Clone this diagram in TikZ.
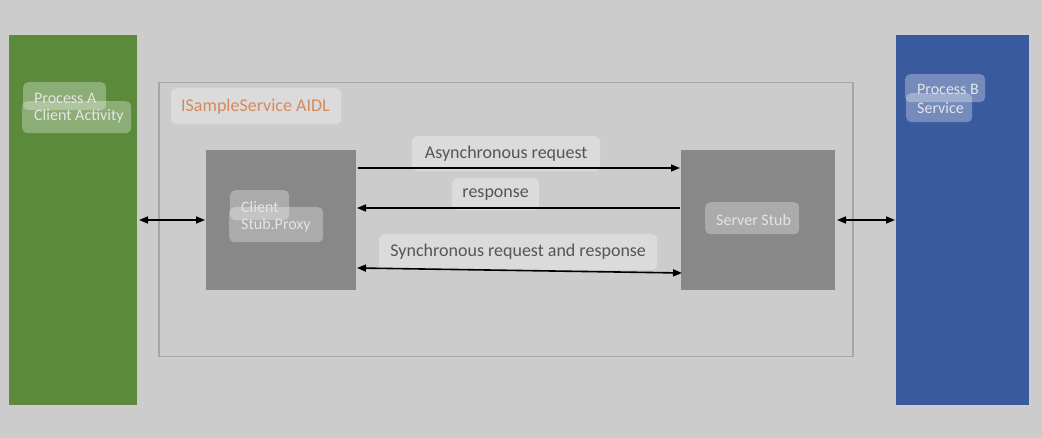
\documentclass[tikz,border=0pt]{standalone}
\usepackage{fontspec}
\setmainfont{Carlito}
\usetikzlibrary{arrows.meta}
\definecolor{bg}{HTML}{CCCCCC}
\definecolor{procA}{HTML}{5B8A3A}
\definecolor{procB}{HTML}{3A5A9E}
\definecolor{stubgray}{HTML}{888888}
\definecolor{framegray}{HTML}{A6A6A6}
\definecolor{aidlorange}{HTML}{D38A5E}
\definecolor{txtgray}{HTML}{555555}
\definecolor{wtxt}{HTML}{E4E4E4}
\tikzset{
  px/.style={x=1pt,y=-1pt},
  lbl/.style={fill=white,fill opacity=0.3,text opacity=1,rounded corners=5pt,inner sep=0pt,anchor=north west},
  wlbl/.style={lbl},
  wtext/.style={text=wtxt,font=\fontsize{16}{16}\selectfont,anchor=west,inner sep=0pt},
  glbl/.style={lbl,text=txtgray,font=\fontsize{18}{18}\selectfont},
  conn/.style={line width=1.6pt,-{Triangle[length=9pt,width=7pt]}},
  dconn/.style={line width=1.6pt,{Triangle[length=9pt,width=7pt]}-{Triangle[length=9pt,width=7pt]}},
}
\begin{document}
\begin{tikzpicture}[px]
\useasboundingbox (0,0) rectangle (1042,438);
\fill[bg] (0,0) rectangle (1042,438);
% process boxes
\node[fill=procA,minimum width=128pt,minimum height=370pt,inner sep=0pt,anchor=north west] (pa) at (9,35) {};
\node[fill=procB,minimum width=133pt,minimum height=370pt,inner sep=0pt,anchor=north west] (pb) at (896,35) {};
% AIDL frame
\node[draw=framegray,line width=1.5pt,minimum width=694pt,minimum height=274pt,inner sep=0pt,anchor=north west] (frame) at (158,82) {};
% stubs
\node[fill=stubgray,minimum width=150pt,minimum height=140pt,inner sep=0pt,anchor=north west] (cs) at (206,150) {};
\node[fill=stubgray,minimum width=154pt,minimum height=140pt,inner sep=0pt,anchor=north west] (ss) at (681,150) {};
% white-text labels
\node[wlbl,minimum width=83pt,minimum height=28pt] (la) at (23,82) {};
\node[wlbl,minimum width=109pt,minimum height=32pt] (lca) at (22,101) {};
\node[wtext] (lat) at (34,98) {Process A};
\node[wtext] (lcat) at (34,116) {Client Activity};
\node[wlbl,minimum width=80pt,minimum height=28pt] (lb) at (905,74) {};
\node[wlbl,minimum width=66pt,minimum height=29pt] (lsv) at (906,93) {};
\node[wtext] (lbt) at (917,89) {Process B};
\node[wtext] (lsvt) at (917,108) {Service};
\node[wlbl,minimum width=59pt,minimum height=30pt] (lc) at (230,190) {};
\node[wlbl,minimum width=94pt,minimum height=35pt] (lsp) at (229,207) {};
\node[wtext] (lct) at (241,207) {Client};
\node[wtext] (lspt) at (241,225) {Stub.Proxy};
\node[wlbl,minimum width=94pt,minimum height=32pt] (lss) at (705,202) {};
\node[wtext] (lsst) at (716,220) {Server Stub};
% AIDL title
\node[lbl,minimum width=170pt,minimum height=36pt] (aidl) at (171,88) {};
\node[text=aidlorange,font=\fontsize{18}{18}\selectfont,anchor=west,inner sep=0pt] (aidlt) at (181,107) {ISampleService AIDL};
% message labels
\node[glbl,minimum width=188pt,minimum height=35pt] (lar) at (412,136) {Asynchronous request};
\node[glbl,minimum width=87pt,minimum height=32pt] (lr) at (452,178) {response};
\node[glbl,minimum width=278pt,minimum height=36pt] (lsr) at (379,234) {Synchronous request and response};
% connectors
\coordinate (c1) at (358,168);
\coordinate (s1) at (680,168);
\coordinate (s2) at (680,208);
\coordinate (c2) at (357,208);
\coordinate (c3) at (357,268);
\coordinate (s3) at (682,273);
\coordinate (a1) at (139,220);
\coordinate (a2) at (205,220);
\coordinate (b1) at (837,220);
\coordinate (b2) at (895,220);
\draw[conn] (c1) -- (s1);
\draw[conn] (s2) -- (c2);
\draw[dconn] (c3) -- (s3);
\draw[dconn] (a1) -- (a2);
\draw[dconn] (b1) -- (b2);
\end{tikzpicture}
\end{document}
